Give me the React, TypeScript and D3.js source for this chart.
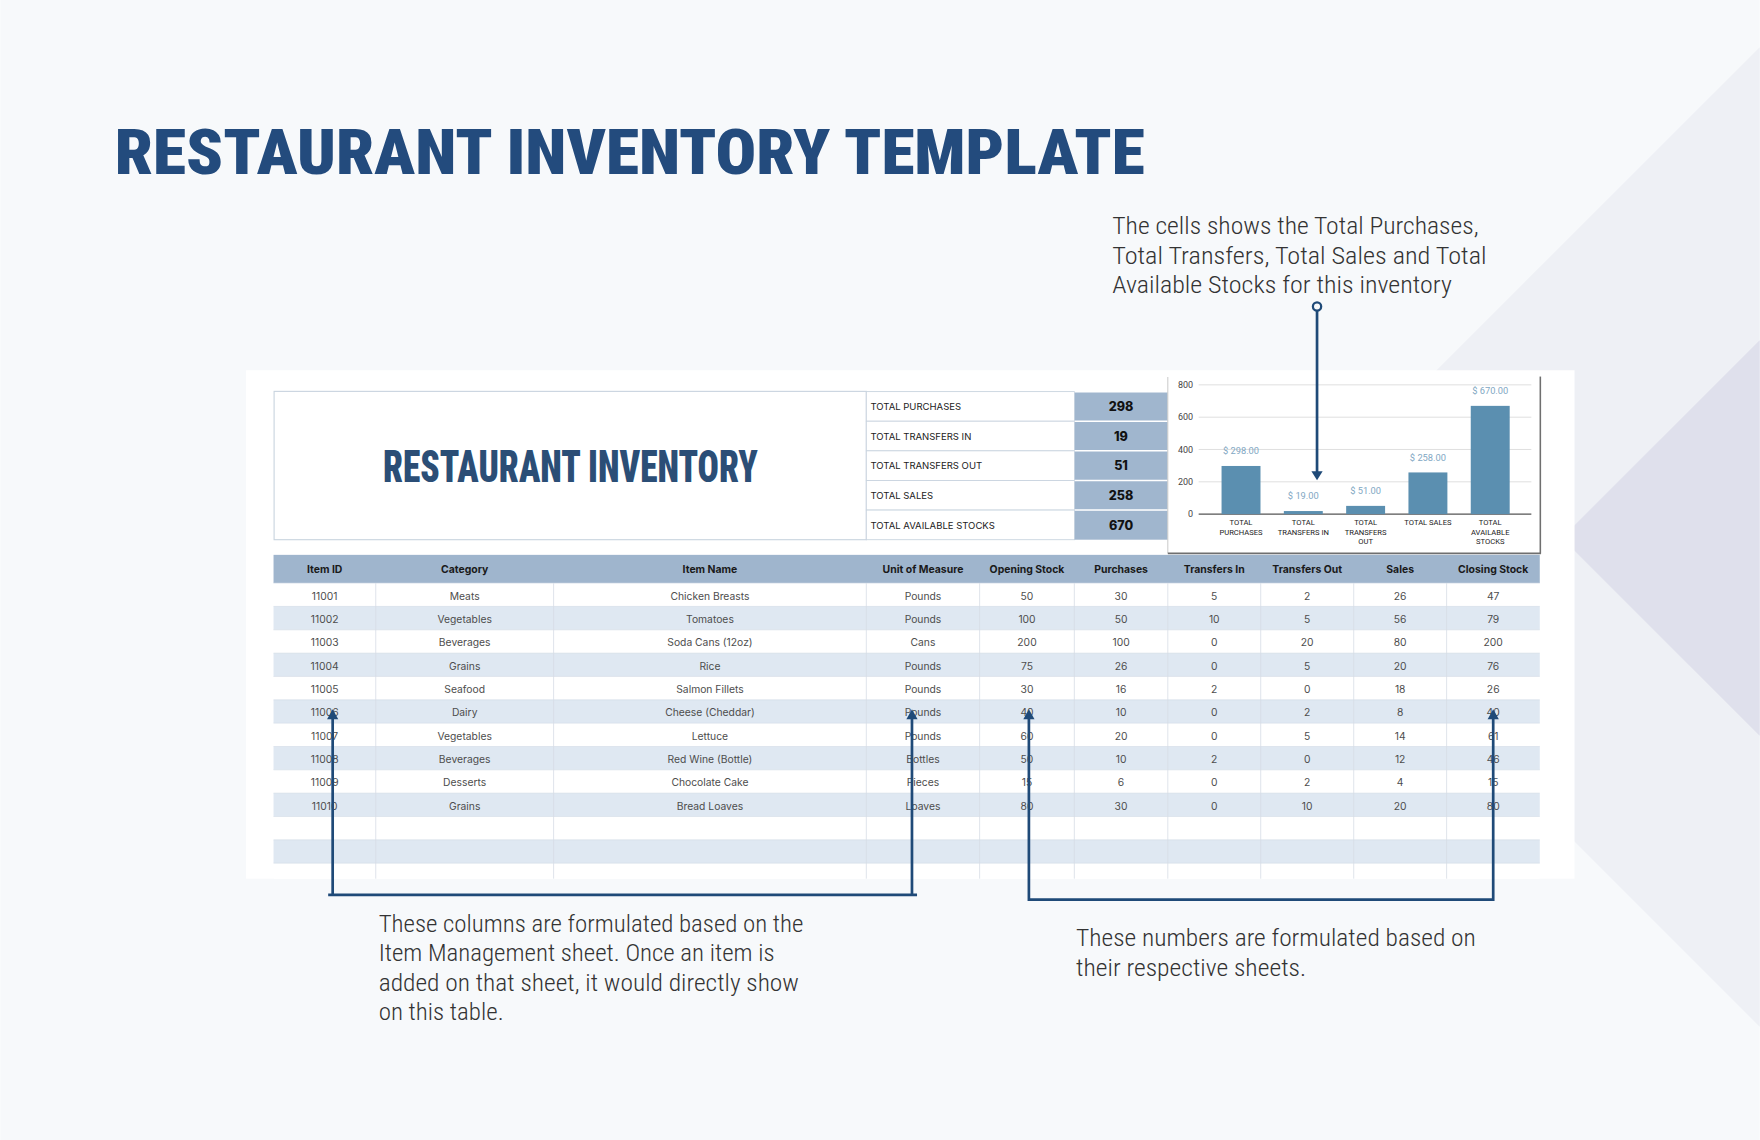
import React from 'react';
import * as d3 from 'd3';

// ---------- data ----------
const pageTitle = 'RESTAURANT INVENTORY TEMPLATE';
const boxTitle = 'RESTAURANT INVENTORY';
const summaryLabels = ['TOTAL PURCHASES', 'TOTAL TRANSFERS IN', 'TOTAL TRANSFERS OUT', 'TOTAL SALES', 'TOTAL AVAILABLE STOCKS'];
const summaryValues = [298, 19, 51, 258, 670];
const chartCategories = [
  ['TOTAL', 'PURCHASES'],
  ['TOTAL', 'TRANSFERS IN'],
  ['TOTAL', 'TRANSFERS', 'OUT'],
  ['TOTAL SALES'],
  ['TOTAL', 'AVAILABLE', 'STOCKS'],
];
const chartValues = [298, 19, 51, 258, 670];
const yTicks = [0, 200, 400, 600, 800];
const headers = ['Item ID', 'Category', 'Item Name', 'Unit of Measure', 'Opening Stock', 'Purchases', 'Transfers In', 'Transfers Out', 'Sales', 'Closing Stock'];
const itemIds = ['11001', '11002', '11003', '11004', '11005', '11006', '11007', '11008', '11009', '11010'];
const categories = ['Meats', 'Vegetables', 'Beverages', 'Grains', 'Seafood', 'Dairy', 'Vegetables', 'Beverages', 'Desserts', 'Grains'];
const itemNames = ['Chicken Breasts', 'Tomatoes', 'Soda Cans (12oz)', 'Rice', 'Salmon Fillets', 'Cheese (Cheddar)', 'Lettuce', 'Red Wine (Bottle)', 'Chocolate Cake', 'Bread Loaves'];
const units = ['Pounds', 'Pounds', 'Cans', 'Pounds', 'Pounds', 'Pounds', 'Pounds', 'Bottles', 'Pieces', 'Loaves'];
const openingStock = [50, 100, 200, 75, 30, 40, 60, 50, 15, 80];
const purchases = [30, 50, 100, 26, 16, 10, 20, 10, 6, 30];
const transfersIn = [5, 10, 0, 0, 2, 0, 0, 2, 0, 0];
const transfersOut = [2, 5, 20, 5, 0, 2, 5, 0, 2, 10];
const sales = [26, 56, 80, 20, 18, 8, 14, 12, 4, 20];
const closingStock = [47, 79, 200, 76, 26, 40, 61, 46, 15, 80];
const topNote = ['The cells shows the Total Purchases,', 'Total Transfers, Total Sales and Total', 'Available Stocks for this inventory'];
const leftNote = ['These columns are formulated based on the', 'Item Management sheet. Once an item is', 'added on that sheet, it would directly show', 'on this table.'];
const rightNote = ['These numbers are formulated based on', 'their respective sheets.'];

// ---------- layout (viewBox units) ----------
const VW = 1568, VH = 1016;
const DARK = '#1f4a78';
const COND = "'Roboto Condensed', Roboto, 'Liberation Sans Narrow', sans-serif";
const TBL = "Inter, 'Noto Sans', sans-serif";
const topNoteW = [326.6, 333.6, 302.6];
const leftNoteW = [378.6, 352.8, 374.6, 111.4];
const rightNoteW = [356.3, 205.1];
const colEdges = [243.5, 334.6, 493.1, 771.8, 872.8, 957.2, 1040.5, 1123.3, 1206.2, 1289, 1372];

export default function App() {
  const columns = [itemIds, categories, itemNames, units, openingStock, purchases, transfersIn, transfersOut, sales, closingStock];
  const nRows = 13;
  const headerTop = 494.5, headerBottom = 519.7, rowH = 20.8, tableBottom = 783.1;
  const rowY = d3.scaleLinear().domain([0, 1]).range([headerBottom, headerBottom + rowH]);

  // chart scales
  const y = d3.scaleLinear().domain([0, 800]).range([458.2, 343]);
  const x = d3.scaleBand<number>().domain(d3.range(chartValues.length)).range([1088.4, 1345.2]).paddingInner(0.375).paddingOuter(0);
  const gridX0 = 1068, gridX1 = 1364.5;

  // summary
  const sumTop = 349, sumRowH = 26.4;
  const sumY = d3.scaleLinear().domain([0, 1]).range([sumTop, sumTop + sumRowH]);

  const arrowUp = (cx: number, tip: number) => `M${cx},${tip} L${cx + 5},${tip + 9} L${cx - 5},${tip + 9} Z`;
  const arrowDown = (cx: number, tip: number) => `M${cx},${tip} L${cx + 5},${tip - 8} L${cx - 5},${tip - 8} Z`;

  const b1 = { l: 296.2, r: 812.5, y: 797.6, tip: 632 };
  const b2 = { l: 916.7, r: 1330.5, y: 801.8, tip: 632 };

  return (
    <svg width={1760} height={1140} viewBox={`0 0 ${VW} ${VH}`} style={{ position: 'absolute', left: 0, top: 0 }}>
      {/* background */}
      <rect x={0} y={0} width={VW} height={VH} fill="#f7f9fb" />
      <polygon points="1131.5,478.5 1568,42 1568,915" fill="#eef0f5" />
      <polygon points="1391.7,479.5 1568,303.2 1568,655.7" fill="#dfe0ec" />

      {/* page title */}
      <text x={102} y={155} fontFamily={COND} fontWeight={900} fontSize={56} fill="#234b7d" textLength={918} lengthAdjust="spacingAndGlyphs">{pageTitle}</text>

      {/* top note */}
      {topNote.map((t, i) => (
        <text key={i} x={991} y={208.8 + i * 26.3} fontFamily={COND} fontWeight={300} fontSize={21} fill="#333" textLength={topNoteW[i]} lengthAdjust="spacingAndGlyphs">{t}</text>
      ))}

      {/* white panel */}
      <rect x={219} y={330} width={1403 - 219} height={783.1 - 330} fill="#ffffff" />

      {/* title box */}
      <rect x={244} y={348.8} width={771.8 - 244} height={481 - 348.8} fill="#ffffff" stroke="#c9d4df" strokeWidth={1} />
      <text x={341} y={430} fontFamily={COND} fontWeight={900} fontSize={40} fill="#2b4e76" textLength={334} lengthAdjust="spacingAndGlyphs">{boxTitle}</text>

      {/* summary table */}
      {summaryLabels.map((lab, i) => {
        const top = sumY(i);
        return (
          <g key={i}>
            <rect x={771.8} y={top} width={957.5 - 771.8} height={sumRowH} fill="#ffffff" stroke="#c9d4df" strokeWidth={0.8} />
            <rect x={957.5} y={top} width={1040.5 - 957.5} height={sumRowH} fill="#a0b6ce" />
            <line x1={957.5} x2={1040.5} y1={top} y2={top} stroke="#ffffff" strokeWidth={1.4} />
            <text x={775.5} y={top + sumRowH / 2 + 3.3} fontFamily={TBL} fontSize={8.5} fill="#222">{lab}</text>
            <text x={998.8} y={top + sumRowH / 2 + 4.2} fontFamily={TBL} fontWeight={800} fontSize={11.2} fill="#111" textAnchor="middle">{summaryValues[i]}</text>
          </g>
        );
      })}

      {/* chart frame */}
      <line x1={1040.5} x2={1040.5} y1={336} y2={493} stroke="#cfcfcf" strokeWidth={1} />
      <line x1={1372.5} x2={1372.5} y1={335.6} y2={493.5} stroke="#6f6f6f" strokeWidth={1.4} />
      <line x1={1040.5} x2={1373} y1={493.2} y2={493.2} stroke="#6f6f6f" strokeWidth={1.4} />

      {/* chart gridlines and y labels */}
      {yTicks.map((t) => (
        <g key={t}>
          <line x1={gridX0} x2={gridX1} y1={y(t)} y2={y(t)} stroke={t === 0 ? '#555' : '#d6d6d6'} strokeWidth={t === 0 ? 1 : 0.7} />
          <text x={1063} y={y(t) + 2.8} fontFamily="Roboto, sans-serif" fontSize={8} fill="#444" textAnchor="end">{t}</text>
        </g>
      ))}
      {chartValues.map((v, i) => {
        const bx = x(i)!;
        const bw = x.bandwidth();
        const cx = bx + bw / 2;
        return (
          <g key={i}>
            <rect x={bx} y={y(v)} width={bw} height={y(0) - y(v)} fill="#5b8fb0" />
            <text x={cx} y={y(v) - 10.5} fontFamily="Roboto, sans-serif" fontSize={8.3} fill="#7fa7c3" textAnchor="middle">{`$ ${v.toFixed(2)}`}</text>
            {chartCategories[i].map((ln, j) => (
              <text key={j} x={cx} y={468 + j * 8.5} fontFamily="Roboto, sans-serif" fontSize={6.8} fill="#222" textAnchor="middle">{ln}</text>
            ))}
          </g>
        );
      })}

      {/* main table header */}
      <rect x={colEdges[0]} y={headerTop} width={colEdges[colEdges.length - 1] - colEdges[0]} height={headerBottom - headerTop} fill="#9fb5cd" />
      {headers.map((h, c) => (
        <text key={h} x={(colEdges[c] + colEdges[c + 1]) / 2} y={(headerTop + headerBottom) / 2 + 3.6} fontFamily={TBL} fontWeight={700} fontSize={9.3} fill="#1a1a1a" textAnchor="middle">{h}</text>
      ))}

      {/* main table body */}
      {d3.range(nRows).map((r) => {
        const top = rowY(r);
        const h = Math.min(rowH, tableBottom - top);
        return (
          <g key={r}>
            <rect x={colEdges[0]} y={top} width={colEdges[colEdges.length - 1] - colEdges[0]} height={h} fill={r % 2 === 1 ? '#dfe8f2' : '#ffffff'} />
            <line x1={colEdges[0]} x2={colEdges[colEdges.length - 1]} y1={top} y2={top} stroke="#d4dde7" strokeWidth={0.6} />
          </g>
        );
      })}
      {colEdges.slice(1, -1).map((cx, i) => (
        <line key={i} x1={cx} x2={cx} y1={headerBottom} y2={tableBottom} stroke="#d6dde6" strokeWidth={0.7} />
      ))}
      {itemIds.map((_, r) => (
        <g key={r}>
          {columns.map((col, c) => (
            <text key={c} x={(colEdges[c] + colEdges[c + 1]) / 2} y={rowY(r) + rowH / 2 + 4.2} fontFamily={TBL} fontSize={9.2} fill="#4d4d4d" textAnchor="middle">{String(col[r])}</text>
          ))}
        </g>
      ))}

      {/* top arrow */}
      <line x1={1173.5} x2={1173.5} y1={277.2} y2={421} stroke={DARK} strokeWidth={2.4} />
      <circle cx={1173.5} cy={273.2} r={3.7} fill="#f7f9fb" stroke={DARK} strokeWidth={2} />
      <path d={arrowDown(1173.5, 428)} fill={DARK} />

      {/* bracket 1 */}
      <path d={`M${b1.l},${b1.tip + 8} L${b1.l},${b1.y} M${b1.l - 4},${b1.y} L${b1.r + 4.5},${b1.y} M${b1.r},${b1.y} L${b1.r},${b1.tip + 8}`} stroke={DARK} strokeWidth={2.4} fill="none" />
      <path d={arrowUp(b1.l, b1.tip)} fill={DARK} />
      <path d={arrowUp(b1.r, b1.tip)} fill={DARK} />

      {/* bracket 2 */}
      <path d={`M${b2.l},${b2.tip + 8} L${b2.l},${b2.y} L${b2.r},${b2.y} L${b2.r},${b2.tip + 8}`} stroke={DARK} strokeWidth={2.4} fill="none" />
      <path d={arrowUp(b2.l, b2.tip)} fill={DARK} />
      <path d={arrowUp(b2.r, b2.tip)} fill={DARK} />

      {/* notes */}
      {leftNote.map((t, i) => (
        <text key={i} x={337.2} y={831 + i * 25.9} fontFamily={COND} fontWeight={300} fontSize={21} fill="#333" textLength={leftNoteW[i]} lengthAdjust="spacingAndGlyphs">{t}</text>
      ))}
      {rightNote.map((t, i) => (
        <text key={i} x={958.7} y={843.4 + i * 26.3} fontFamily={COND} fontWeight={300} fontSize={21} fill="#333" textLength={rightNoteW[i]} lengthAdjust="spacingAndGlyphs">{t}</text>
      ))}
    </svg>
  );
}
